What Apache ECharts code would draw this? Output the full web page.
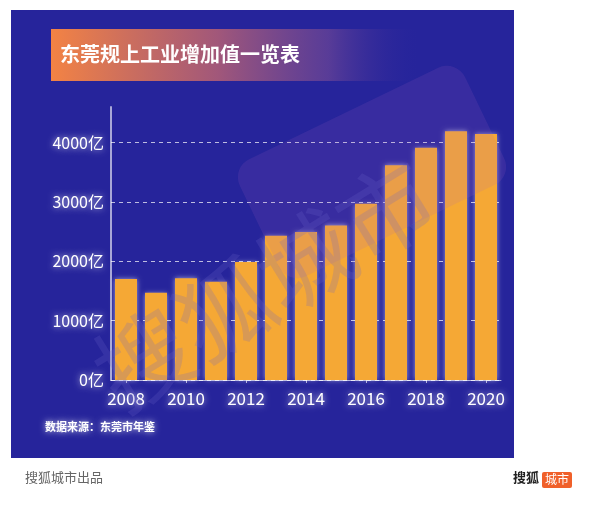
<!DOCTYPE html>
<html>
<head>
<meta charset="utf-8">
<script src="https://cdn.jsdelivr.net/npm/echarts@6/dist/echarts.min.js"></script>
<style>
  html, body { margin: 0; padding: 0; background: #ffffff; }
  #main { width: 600px; height: 510px; }
</style>
</head>
<body>
<div id="main"></div>
<script>
// 东莞规上工业增加值（亿元）
let years = ['2008', '2009', '2010', '2011', '2012', '2013', '2014', '2015', '2016', '2017', '2018', '2019', '2020']
let values = [1700, 1470, 1715, 1655, 1990, 2430, 2495, 2605, 2970, 3620, 3915, 4190, 4145]
let yTicks = [0, 1000, 2000, 3000, 4000]

let titleText = '东莞规上工业增加值一览表'
let sourceText = '数据来源：东莞市年鉴'

let chart = echarts.init(document.getElementById('main'))
const font = '"Noto Sans CJK SC", "Noto Sans", sans-serif'
const glow = {
  textShadowColor: 'rgba(255,255,255,0.8)',
  textShadowBlur: 6,
}

let option = {
  backgroundColor: '#ffffff',
  textStyle: { fontFamily: font },
  animation: false,
  grid: {
    left: 111,
    right: 99,
    top: 107,
    bottom: 130,
  },
  xAxis: {
    type: 'category',
    data: years,
    axisLine: {
      lineStyle: { color: 'rgba(255,255,255,0.65)', width: 1 },
    },
    axisTick: {
      show: true,
      interval: 1,
      alignWithLabel: true,
      length: 3,
      lineStyle: { color: 'rgba(255,255,255,0.65)' },
    },
    axisLabel: {
      interval: 1,
      color: '#ffffff',
      fontSize: 17,
      margin: 10,
      fontFamily: font,
      ...glow,
    },
  },
  yAxis: {
    type: 'value',
    min: yTicks[0],
    max: 4600,
    interval: 1000,
    axisLine: {
      show: true,
      lineStyle: { color: 'rgba(255,255,255,0.6)', width: 2 },
    },
    axisTick: { show: false },
    axisLabel: {
      showMaxLabel: false,
      color: '#ffffff',
      fontSize: 16,
      margin: 7,
      fontFamily: font,
      formatter: function (v) {
        return yTicks.indexOf(v) >= 0 ? v + '亿' : ''
      },
      ...glow,
    },
    splitLine: {
      show: true,
      showMaxLine: false,
      lineStyle: { color: 'rgba(255,255,255,0.7)', type: [4, 4], width: 1 },
    },
  },
  series: [{
    type: 'bar',
    data: values,
    barWidth: 22,
    itemStyle: {
      color: '#f5a835',
      shadowColor: 'rgba(255,255,255,0.55)',
      shadowBlur: 5,
    },
  }],
  graphic: [
    // 蓝色底板
    {
      type: 'rect',
      z: -10,
      shape: { x: 11, y: 10, width: 503, height: 448 },
      style: { fill: '#26249b' },
    },
    // 标题条
    {
      type: 'rect',
      z: -5,
      shape: { x: 51, y: 29, width: 370, height: 52 },
      style: {
        fill: new echarts.graphic.LinearGradient(0, 0, 1, 0, [
          { offset: 0, color: 'rgba(243,131,68,1)' },
          { offset: 0.45, color: 'rgba(168,90,120,0.95)' },
          { offset: 0.75, color: 'rgba(110,70,150,0.7)' },
          { offset: 1, color: 'rgba(38,36,155,0)' },
        ]),
      },
    },
    {
      type: 'text',
      z: 10,
      left: 60,
      top: 44,
      style: {
        text: titleText,
        fill: '#ffffff',
        font: 'bold 20px ' + font,
      },
    },
    // 水印
    {
      type: 'rect',
      z: 50,
      x: 372,
      y: 172,
      rotation: 0.45,
      shape: { x: -125, y: -65, width: 250, height: 130, r: 20 },
      style: { fill: 'rgba(170,100,190,0.14)' },
    },
    {
      type: 'text',
      z: 51,
      x: 265,
      y: 285,
      rotation: 0.55,
      style: {
        text: '搜狐城市',
        fill: 'rgba(110,100,200,0.22)',
        font: '95px ' + font,
        align: 'center',
        verticalAlign: 'middle',
      },
    },
    // 数据来源
    {
      type: 'text',
      z: 10,
      left: 45,
      top: 421,
      style: {
        text: sourceText,
        fill: '#ffffff',
        font: 'bold 11px ' + font,
        ...glow,
      },
    },
    // 页脚
    {
      type: 'text',
      left: 25,
      top: 471,
      style: {
        text: '搜狐城市出品',
        fill: '#666666',
        font: '13px ' + font,
      },
    },
    {
      type: 'text',
      left: 513,
      top: 471,
      style: {
        text: '搜狐',
        fill: '#222222',
        font: 'bold 13px ' + font,
      },
    },
    {
      type: 'rect',
      shape: { x: 542, y: 472, width: 30, height: 16, r: 2 },
      style: { fill: '#f0602a' },
    },
    {
      type: 'text',
      left: 545,
      top: 473,
      style: {
        text: '城市',
        fill: '#ffffff',
        font: '12px ' + font,
      },
    },
  ],
}

chart.setOption(option)
</script>
</body>
</html>
